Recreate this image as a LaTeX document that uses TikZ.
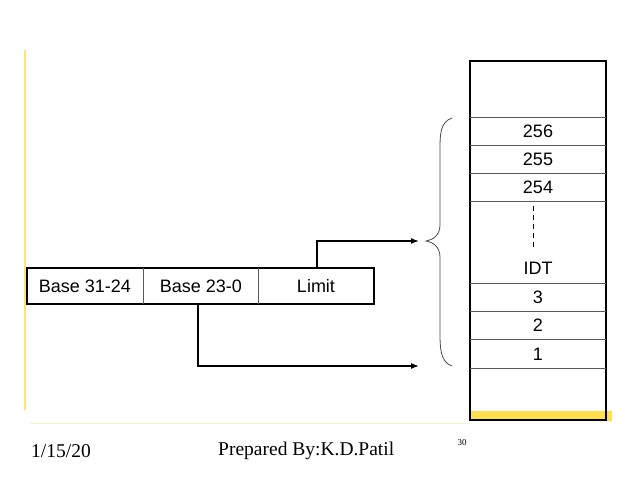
\documentclass[tikz,border=0pt]{standalone}
\usepackage{fontspec}
\setmainfont{Liberation Serif}
\newfontfamily\arial{Liberation Sans}
\usetikzlibrary{decorations.pathreplacing,arrows.meta}
\begin{document}
\begin{tikzpicture}[x=1pt,y=-1pt,
  lbl/.style={font=\arial\fontsize{18}{18}\selectfont,inner sep=0},
  cell/.style={draw,line width=1pt},
  conn/.style={line width=1.3pt,-{Latex[length=8pt,width=6pt]}}]
\useasboundingbox (0,0) rectangle (638,478);
% decorative yellow lines
\draw[yellow!60!orange!50,line width=1.2pt] (25,50) -- (25,410);
\fill[yellow!70!orange!70] (470,411) rectangle (612,421);
\draw[yellow!40!orange!20,line width=1pt] (30,424) -- (470,424);
% memory column
\draw[line width=1.6pt] (470,61) rectangle (606,420);
\foreach \y in {117,145,173,201,283,311,339,368} \draw[line width=0.8pt,gray!70!black] (470,\y) -- (606,\y);
\node[lbl] (t256) at (538,131) {256};
\node[lbl] (t255) at (538,159) {255};
\node[lbl] (t254) at (538,187) {254};
\node[lbl] (idt) at (538,268) {IDT};
\node[lbl] (t3) at (538,297) {3};
\node[lbl] (t2) at (538,325) {2};
\node[lbl] (t1) at (538,354) {1};
\draw[line width=1pt,dash pattern=on 5pt off 4pt] (533,206) -- (533,248);
% brace
\draw[gray!60!black,line width=0.8pt] (452,118) .. controls (440,122) and (440,135) .. (440,150) -- (440,225) .. controls (440,236) and (432,240) .. (426,241)
  .. controls (432,242) and (440,246) .. (440,257) -- (440,332) .. controls (440,347) and (440,362) .. (452,366);
% descriptor
\draw[line width=1.6pt] (27,268) rectangle (374,304);
\draw[line width=0.8pt,gray!70!black] (143,268) -- (143,304) (258,268) -- (258,304);
\node[lbl] (b1) at (85,286) {Base 31-24};
\node[lbl] (b2) at (201,286) {Base 23-0};
\node[lbl] (lim) at (316,286) {Limit};
\coordinate (top) at (419,241);
\coordinate (bot) at (419,366);
\draw[conn] (317,268) |- (top);
\draw[conn] (198,304) |- (bot);
% footer
\node[anchor=west,inner sep=0,font=\fontsize{19.5}{19.5}\selectfont] (date) at (31,451) {1/15/20};
\node[anchor=west,inner sep=0,font=\fontsize{19.5}{19.5}\selectfont] (prep) at (218,451) {Prepared By:K.D.Patil};
\node[inner sep=0,font=\fontsize{9}{9}\selectfont] (pg) at (462,443) {30};
\end{tikzpicture}
\end{document}
